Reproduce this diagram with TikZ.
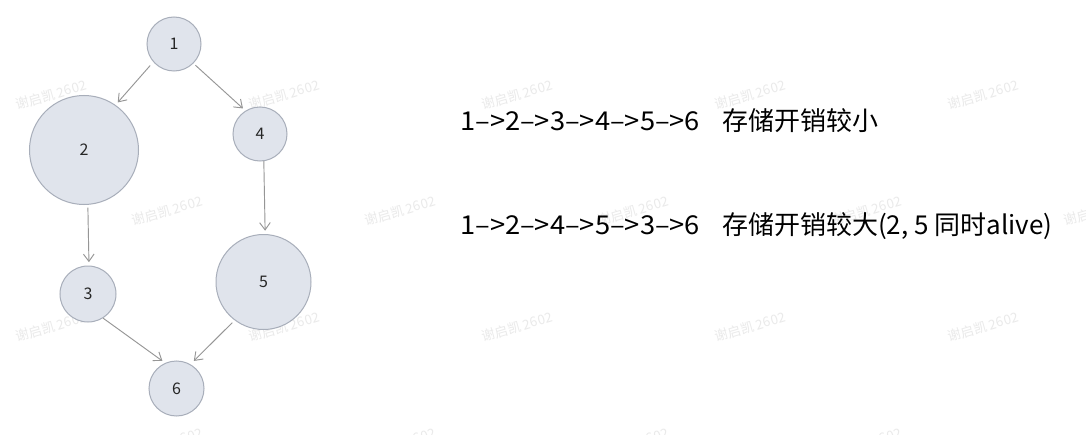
\documentclass[tikz,border=0pt]{standalone}
\usepackage{fontspec}
\usepackage{graphicx}
\setmainfont{Noto Sans CJK SC}
\newfontfamily\cjk[Ligatures=TeX]{Noto Sans CJK SC}
\usetikzlibrary{arrows.meta}
\definecolor{nodefill}{RGB}{224,228,236}
\definecolor{nodeline}{RGB}{168,174,186}
\definecolor{edgecol}{RGB}{150,150,150}
\definecolor{wmcol}{RGB}{234,234,234}
\begin{document}
\begin{tikzpicture}[x=0.75pt,y=-0.75pt,
  vnode/.style={circle,draw=nodeline,fill=nodefill,line width=0.75pt,inner sep=0pt,
    font=\fontsize{12pt}{14pt}\selectfont,text=black!85},
  edge/.style={draw=edgecol,line width=0.7pt,-{Straight Barb[length=5.5pt,width=8pt]},shorten >=2.5pt},
  wm/.style={text=wmcol,rotate=16,font=\fontsize{10pt}{12pt}\selectfont,inner sep=0pt},
  seq/.style={anchor=west,inner sep=0pt,font=\cjk\fontsize{19.5pt}{22pt}\selectfont,text=black}]
\useasboundingbox[fill=white] (0,0) rectangle (1086,435);
% watermarks
\foreach \y in {95,327}{\foreach \x in {51,284,517,750,983}{\node[wm] at (\x,\y) {谢启凯 2602};}}
\foreach \y in {211,443}{\foreach \x in {167,400,633,866,1099}{\node[wm] at (\x,\y) {谢启凯 2602};}}
% nodes
\node[vnode,minimum size=40.5pt] (n1) at (174,44) {1};
\node[vnode,minimum size=81.75pt] (n2) at (84,150) {2};
\node[vnode,minimum size=40.5pt] (n4) at (260,134) {4};
\node[vnode,minimum size=42pt] (n3) at (88,294) {3};
\node[vnode,minimum size=71.25pt] (n5) at (263.5,282) {5};
\node[vnode,minimum size=41.25pt] (n6) at (176.5,388.5) {6};
% edges
\draw[edge,shorten <=3.5pt] (n1.221) -- (n2.55);
\draw[edge,shorten <=2pt] (n1.315) -- (n4.122);
\draw[edge,shorten <=2pt] (n2.274) -- (n3.88);
\draw[edge] (n4.278) -- (n5.88);
\draw[edge] (n3.302) -- (n6.114);
\draw[edge,shorten <=2.5pt,shorten >=3.5pt] (n5.233) -- (n6.60);
% texts
\node[seq] (t1) at (460,121) {\scalebox{1.05}[1]{1-->2-->3-->4-->5-->6}\hspace{16.5pt}存储开销较小};
\node[seq] (t2) at (460,226) {\scalebox{1.05}[1]{1-->2-->4-->5-->3-->6}\hspace{16.5pt}存储开销较大(2, 5 同时alive)};
\end{tikzpicture}
\end{document}
